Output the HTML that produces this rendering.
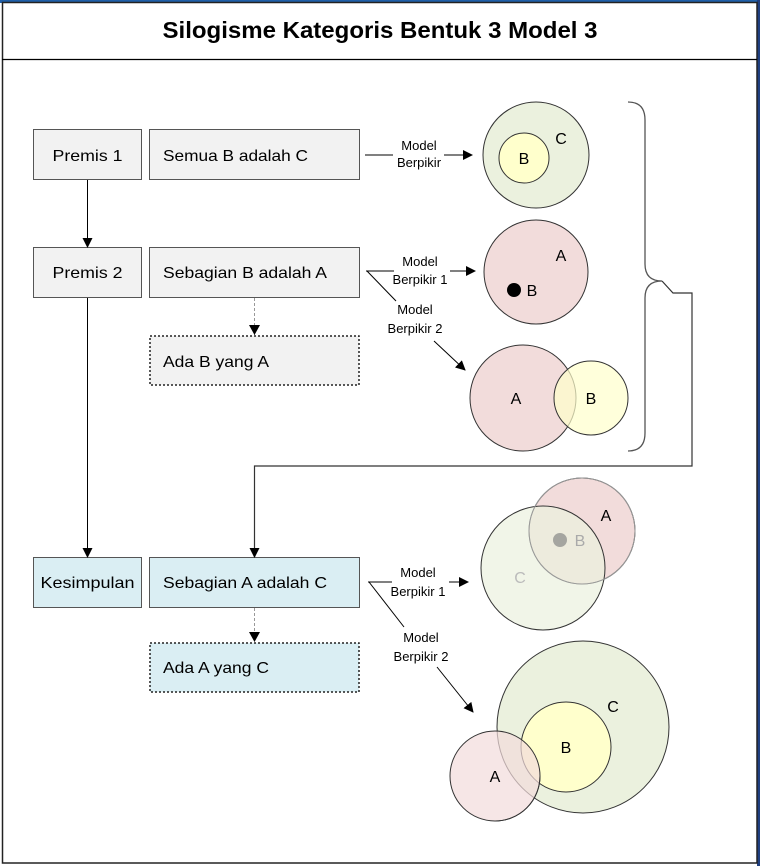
<!DOCTYPE html>
<html><head><meta charset="utf-8"><style>
html,body{margin:0;padding:0;background:#fff;}
svg{display:block;}
text{font-family:"Liberation Sans",sans-serif;}
</style></head><body>
<svg width="760" height="866" viewBox="0 0 760 866" xmlns="http://www.w3.org/2000/svg">
<defs>
<marker id="ar" markerWidth="10" markerHeight="10" refX="9" refY="5" orient="auto" markerUnits="userSpaceOnUse">
<path d="M0,0 L10,5 L0,10 z" fill="#000"/></marker>
</defs>
<rect x="0" y="0" width="760" height="866" fill="#fff"/>
<rect x="0" y="0" width="760" height="3" fill="#1f5fa8"/>
<rect x="757" y="0" width="3" height="866" fill="#1f3f80"/>
<rect x="2.5" y="2.5" width="754.5" height="860.5" fill="none" stroke="#222" stroke-width="1.5"/>
<line x1="2" y1="59.5" x2="757" y2="59.5" stroke="#000" stroke-width="1.2"/>
<text x="380" y="38" text-anchor="middle" font-size="23" font-weight="bold" textLength="435" lengthAdjust="spacingAndGlyphs">Silogisme Kategoris Bentuk 3 Model 3</text>

<g font-size="16" fill="#000">
<rect x="33.5" y="129.5" width="108" height="50" fill="#f2f2f2" stroke="#555"/>
<text x="87.5" y="161" text-anchor="middle" textLength="70" lengthAdjust="spacingAndGlyphs">Premis 1</text>
<rect x="149.5" y="129.5" width="210" height="50" fill="#f2f2f2" stroke="#555"/>
<text x="163" y="161" textLength="145" lengthAdjust="spacingAndGlyphs">Semua B adalah C</text>
<rect x="33.5" y="247.5" width="108" height="50" fill="#f2f2f2" stroke="#555"/>
<text x="87.5" y="278" text-anchor="middle" textLength="70" lengthAdjust="spacingAndGlyphs">Premis 2</text>
<rect x="149.5" y="247.5" width="210" height="50" fill="#f2f2f2" stroke="#555"/>
<text x="163" y="278" textLength="164" lengthAdjust="spacingAndGlyphs">Sebagian B adalah A</text>
<rect x="150" y="336" width="209" height="49" fill="#f2f2f2" stroke="#222" stroke-width="1.5" stroke-dasharray="2,2"/>
<text x="163" y="367" textLength="106" lengthAdjust="spacingAndGlyphs">Ada B yang A</text>
<rect x="33.5" y="557.5" width="108" height="50" fill="#daeef3" stroke="#555"/>
<text x="87.5" y="588" text-anchor="middle" textLength="94" lengthAdjust="spacingAndGlyphs">Kesimpulan</text>
<rect x="149.5" y="557.5" width="210" height="50" fill="#daeef3" stroke="#555"/>
<text x="163" y="588" textLength="164" lengthAdjust="spacingAndGlyphs">Sebagian A adalah C</text>
<rect x="150" y="643" width="209" height="49" fill="#daeef3" stroke="#222" stroke-width="1.5" stroke-dasharray="2,2"/>
<text x="163" y="673" textLength="106" lengthAdjust="spacingAndGlyphs">Ada A yang C</text>
</g>

<line x1="87.5" y1="180" x2="87.5" y2="247" stroke="#000" marker-end="url(#ar)"/>
<line x1="87.5" y1="298" x2="87.5" y2="557" stroke="#000" marker-end="url(#ar)"/>
<line x1="254.5" y1="298" x2="254.5" y2="335" stroke="#999" stroke-dasharray="3,2"/>
<path d="M249,325 L260,325 L254.5,335 z" fill="#000"/>
<line x1="254.5" y1="608" x2="254.5" y2="642" stroke="#999" stroke-dasharray="3,2"/>
<path d="M249,632 L260,632 L254.5,642 z" fill="#000"/>

<path d="M628,102 Q645,102 645,120 L645,264 Q645,281 662,281 Q645,281 645,298 L645,433 Q645,451 628,451" fill="none" stroke="#555" stroke-width="1.3"/>
<path d="M662,281 L673,293 L692,293 L692,466 L254.5,466 L254.5,557" fill="none" stroke="#333" stroke-width="1.2" marker-end="url(#ar)"/>

<g stroke="#000" stroke-width="1" fill="none">
<line x1="365" y1="155" x2="393" y2="155"/>
<line x1="444" y1="155" x2="472" y2="155" marker-end="url(#ar)"/>
<line x1="366" y1="271" x2="394" y2="271"/>
<line x1="450" y1="271" x2="475" y2="271" marker-end="url(#ar)"/>
<line x1="367" y1="271" x2="396" y2="301"/>
<line x1="434" y1="341" x2="465" y2="370" marker-end="url(#ar)"/>
<line x1="368" y1="582" x2="392" y2="582"/>
<line x1="449" y1="582" x2="468" y2="582" marker-end="url(#ar)"/>
<line x1="369" y1="582" x2="404" y2="627"/>
<line x1="437" y1="667" x2="473" y2="712" marker-end="url(#ar)"/>
</g>
<g font-size="13" text-anchor="middle" fill="#000">
<text x="419" y="150">Model</text><text x="419" y="167">Berpikir</text>
<text x="420" y="266">Model</text><text x="420" y="284">Berpikir 1</text>
<text x="415" y="314">Model</text><text x="415" y="333">Berpikir 2</text>
<text x="418" y="577">Model</text><text x="418" y="596">Berpikir 1</text>
<text x="421" y="642">Model</text><text x="421" y="661">Berpikir 2</text>
</g>

<circle cx="536" cy="155" r="53" fill="#ebf1de" stroke="#333"/>
<circle cx="524" cy="158" r="25" fill="#ffffcc" stroke="#333"/>
<g font-size="16" fill="#000" text-anchor="middle">
<text x="524" y="164">B</text><text x="561" y="144">C</text>
</g>
<circle cx="536" cy="272" r="52" fill="#f2dcdb" stroke="#333"/>
<circle cx="514" cy="290" r="7" fill="#000"/>
<g font-size="16" fill="#000" text-anchor="middle">
<text x="532" y="296">B</text><text x="561" y="261">A</text>
</g>
<circle cx="523" cy="398" r="53" fill="#f2dcdb" stroke="#333"/>
<circle cx="591" cy="398" r="37" fill="#ffffcc" fill-opacity="0.7" stroke="#333"/>
<g font-size="16" fill="#000" text-anchor="middle">
<text x="516" y="404">A</text><text x="591" y="404">B</text>
</g>

<circle cx="582" cy="531" r="53" fill="#f2dcdb" stroke="#333"/>
<circle cx="543" cy="568" r="62" fill="#ebf1de" fill-opacity="0.7" stroke="#333"/>
<circle cx="582" cy="531" r="53" fill="none" stroke="#999"/>
<circle cx="560" cy="540" r="7" fill="#a5a5a0"/>
<g font-size="16" text-anchor="middle">
<text x="580" y="546" fill="#aaa">B</text>
<text x="520" y="583" fill="#bbb">C</text>
<text x="606" y="521" fill="#000">A</text>
</g>

<circle cx="583" cy="727" r="86" fill="#ebf1de" stroke="#333"/>
<circle cx="566" cy="747" r="45" fill="#ffffcc" stroke="#333"/>
<circle cx="495" cy="776" r="45" fill="#f2dcdb" fill-opacity="0.7" stroke="#333"/>
<path d="M540,776 A45,45 0 0 1 495,821" fill="none" stroke="#333"/>
<g font-size="16" fill="#000" text-anchor="middle">
<text x="566" y="753">B</text><text x="613" y="712">C</text><text x="495" y="782">A</text>
</g>
</svg>
</body></html>
